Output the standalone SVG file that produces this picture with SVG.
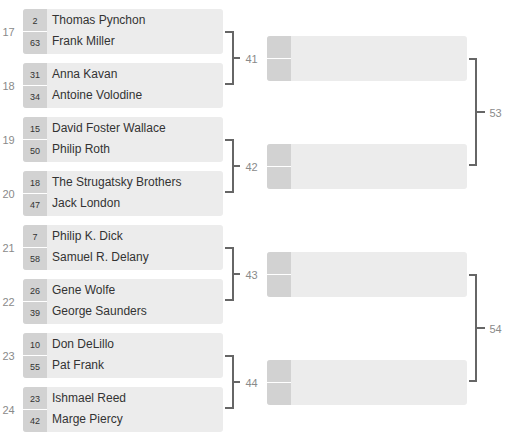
<svg xmlns="http://www.w3.org/2000/svg" xmlns:xlink="http://www.w3.org/1999/xlink" width="505" height="437" viewBox="0 0 505 437">
<style>
.box{fill:#ececec}
.seedcol{fill:#d2d2d2}
.div{stroke:#ffffff;stroke-width:1}
.name{font-family:"Liberation Sans",Arial,sans-serif;font-size:12px;fill:#333333}
.seed{font-family:"Liberation Sans",Arial,sans-serif;font-size:9px;fill:#333333;text-anchor:middle}
.lbl{font-family:"Liberation Sans",Arial,sans-serif;font-size:11px;fill:#8a8a8a}
.br{fill:none;stroke:#666666;stroke-width:2}
</style>
<defs>
<g id="frame">
<rect class="box" x="0" y="0" width="200" height="45" rx="3"/>
<path class="seedcol" d="M3,0 H24 V45 H3 A3,3 0 0 1 0,42 V3 A3,3 0 0 1 3,0 Z"/>
<line class="div" x1="0" y1="22.5" x2="24" y2="22.5"/>
</g>
</defs>
<g id="connectors">
<path class="br" d="M225,32 H233 V84 H225 M233,58 H240"/>
<path class="br" d="M225,140 H233 V192 H225 M233,166 H240"/>
<path class="br" d="M225,248 H233 V300 H225 M233,274 H240"/>
<path class="br" d="M225,356 H233 V408 H225 M233,382 H240"/>
<path class="br" d="M469,59 H476 V165 H469 M476,112 H485"/>
<path class="br" d="M469,275 H476 V381 H469 M476,328 H485"/>
</g>
<g id="m17" transform="translate(23,9)">
<use xlink:href="#frame"/>
<text class="lbl" x="-20.5" y="26.5">17</text>
<text class="seed" x="12" y="14.8">2</text><text class="name" x="29" y="15">Thomas Pynchon</text>
<text class="seed" x="12" y="36.6">63</text><text class="name" x="29" y="36">Frank Miller</text>
</g>
<g id="m18" transform="translate(23,63)">
<use xlink:href="#frame"/>
<text class="lbl" x="-20.5" y="26.5">18</text>
<text class="seed" x="12" y="14.8">31</text><text class="name" x="29" y="15">Anna Kavan</text>
<text class="seed" x="12" y="36.6">34</text><text class="name" x="29" y="36">Antoine Volodine</text>
</g>
<g id="m19" transform="translate(23,117)">
<use xlink:href="#frame"/>
<text class="lbl" x="-20.5" y="26.5">19</text>
<text class="seed" x="12" y="14.8">15</text><text class="name" x="29" y="15">David Foster Wallace</text>
<text class="seed" x="12" y="36.6">50</text><text class="name" x="29" y="36">Philip Roth</text>
</g>
<g id="m20" transform="translate(23,171)">
<use xlink:href="#frame"/>
<text class="lbl" x="-20.5" y="26.5">20</text>
<text class="seed" x="12" y="14.8">18</text><text class="name" x="29" y="15">The Strugatsky Brothers</text>
<text class="seed" x="12" y="36.6">47</text><text class="name" x="29" y="36">Jack London</text>
</g>
<g id="m21" transform="translate(23,225)">
<use xlink:href="#frame"/>
<text class="lbl" x="-20.5" y="26.5">21</text>
<text class="seed" x="12" y="14.8">7</text><text class="name" x="29" y="15">Philip K. Dick</text>
<text class="seed" x="12" y="36.6">58</text><text class="name" x="29" y="36">Samuel R. Delany</text>
</g>
<g id="m22" transform="translate(23,279)">
<use xlink:href="#frame"/>
<text class="lbl" x="-20.5" y="26.5">22</text>
<text class="seed" x="12" y="14.8">26</text><text class="name" x="29" y="15">Gene Wolfe</text>
<text class="seed" x="12" y="36.6">39</text><text class="name" x="29" y="36">George Saunders</text>
</g>
<g id="m23" transform="translate(23,333)">
<use xlink:href="#frame"/>
<text class="lbl" x="-20.5" y="26.5">23</text>
<text class="seed" x="12" y="14.8">10</text><text class="name" x="29" y="15">Don DeLillo</text>
<text class="seed" x="12" y="36.6">55</text><text class="name" x="29" y="36">Pat Frank</text>
</g>
<g id="m24" transform="translate(23,387)">
<use xlink:href="#frame"/>
<text class="lbl" x="-20.5" y="26.5">24</text>
<text class="seed" x="12" y="14.8">23</text><text class="name" x="29" y="15">Ishmael Reed</text>
<text class="seed" x="12" y="36.6">42</text><text class="name" x="29" y="36">Marge Piercy</text>
</g>
<g id="m41" transform="translate(267,36)">
<use xlink:href="#frame"/>
<text class="lbl" x="-21.5" y="26.7">41</text>
</g>
<g id="m42" transform="translate(267,144)">
<use xlink:href="#frame"/>
<text class="lbl" x="-21.5" y="26.7">42</text>
</g>
<g id="m43" transform="translate(267,252)">
<use xlink:href="#frame"/>
<text class="lbl" x="-21.5" y="26.7">43</text>
</g>
<g id="m44" transform="translate(267,360)">
<use xlink:href="#frame"/>
<text class="lbl" x="-21.5" y="26.7">44</text>
</g>
<g id="m53">
<text class="lbl" x="489.5" y="116.5">53</text>
</g>
<g id="m54">
<text class="lbl" x="489.5" y="332.5">54</text>
</g>
</svg>
